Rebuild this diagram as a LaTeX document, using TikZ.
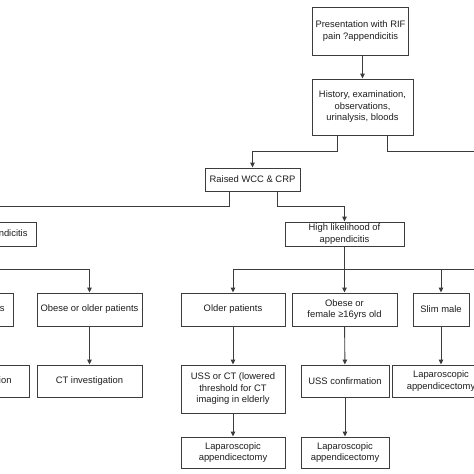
\documentclass[tikz,border=0pt]{standalone}
\usepackage{fontspec}
\setmainfont{Liberation Sans}
\usetikzlibrary{arrows.meta,calc}
\definecolor{linec}{HTML}{3C3C3C}
\definecolor{txtc}{HTML}{1E1E1E}
\tikzset{
  box/.style={draw=linec, line width=0.9pt, fill=white, align=center, inner sep=0pt,
    font=\fontsize{9.4}{11.5}\selectfont, text=txtc},
  arr/.style={draw=linec, line width=0.9pt, -{Triangle[length=5pt,width=4.6pt]}},
  ln/.style={draw=linec, line width=0.9pt},
}
\begin{document}
\begin{tikzpicture}[x=1pt,y=-1pt]
\useasboundingbox (0,0) rectangle (474,474);
\fill[white] (0,0) rectangle (474,474);
\clip (0,0) rectangle (474,474);

% helper coordinates
\coordinate (xa) at (337,0);
\coordinate (xb) at (387,0);
\coordinate (xc) at (229,0);
\coordinate (xd) at (277,0);
\coordinate (y1) at (0,151);
\coordinate (y2) at (0,206);
\coordinate (y3) at (0,269);
\coordinate (eR1) at (480,151);
\coordinate (eL1) at (-6,206);
\coordinate (eL2) at (-6,269);
\coordinate (eR2) at (480,269);

% nodes
\node[box, minimum width=96, minimum height=48] (pres) at (360.5,31) {Presentation with RIF\\pain ?appendicitis};
\node[box, minimum width=101, minimum height=56] (hist) at (362.5,107) {History, examination,\\observations,\\urinalysis, bloods};
\node[box, minimum width=95, minimum height=23] (raised) at (252.5,179.5) {Raised WCC \& CRP};
\node[box, minimum width=119, minimum height=24] (high) at (344.5,234) {High likelihood of\\appendicitis};
\node[box, anchor=east, inner xsep=9pt, minimum height=24] (low) at (37,234) {Low likelihood of appendicitis};

\node[box, anchor=east, inner xsep=9pt, minimum height=33] (leftA) at (14,309.5) {Slim patients};
\node[box, minimum width=105, minimum height=33] (obeseL) at (89.5,309.5) {Obese or older patients};
\node[box, minimum width=104, minimum height=33] (older) at (233,309.5) {Older patients};
\node[box, minimum width=105, minimum height=33] (obeseF) at (344.5,309.5) {Obese or\\female ≥16yrs old};
\node[box, minimum width=56, minimum height=33] (slim) at (441,309.5) {Slim male};

\node[box, anchor=east, inner xsep=18pt, minimum height=32] (leftB) at (30,381) {USS investigation};
\node[box, minimum width=105, minimum height=32] (ct) at (89.5,381) {CT investigation};
\node[box, minimum width=104, minimum height=48] (ussct) at (233,389) {USS or CT (lowered\\threshold for CT\\imaging in elderly};
\node[box, minimum width=88, minimum height=32] (ussconf) at (345,381) {USS confirmation};
\node[box, minimum width=98, minimum height=32] (lap1) at (441,381) {Laparoscopic\\appendicectomy};

\node[box, minimum width=104, minimum height=31] (lap2) at (233,452.5) {Laparoscopic\\appendicectomy};
\node[box, minimum width=88, minimum height=31] (lap3) at (345,452.5) {Laparoscopic\\appendicectomy};

% connectors
\draw[arr] (pres.south -| hist.north) -- (hist.north);
\draw[arr] (hist.south -| xa) -- (xa |- y1) -| (raised.north);
\draw[ln] (hist.south -| xb) |- (eR1);
\draw[ln] (raised.south -| xc) |- (eL1);
\draw[arr] (raised.south -| xd) -- (xd |- y2) -| (high.north);

\draw[ln] (older.north |- y3) -- (eR2);
\draw[arr] (high.south) -- (obeseF.north);
\draw[arr] (older.north |- y3) -- (older.north);
\draw[arr] (slim.north |- y3) -- (slim.north);
\draw[arr] (eL2) -| (obeseL.north);

\draw[arr] (obeseL) -- (ct);
\draw[arr] (older) -- (ussct);
\draw[arr] (ussct) -- (lap2);
\draw[arr] (obeseF) -- (ussconf);
\draw[arr] (ussconf) -- (lap3);
\draw[arr] (slim) -- (lap1);
\end{tikzpicture}
\end{document}
